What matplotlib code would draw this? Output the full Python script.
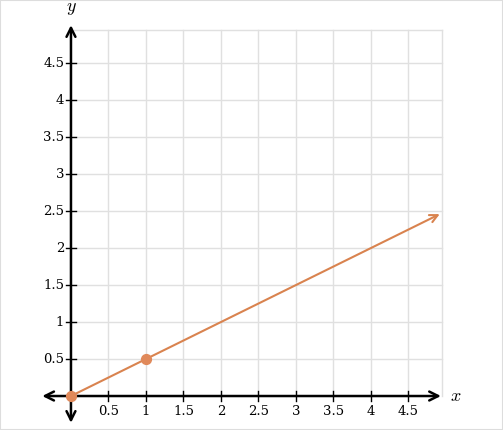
import matplotlib
matplotlib.use("Agg")
import matplotlib.pyplot as plt
import numpy as np

xticks = [0.5, 1, 1.5, 2, 2.5, 3, 3.5, 4, 4.5]
yticks = [0.5, 1, 1.5, 2, 2.5, 3, 3.5, 4, 4.5]
xticklabels = ["0.5", "1", "1.5", "2", "2.5", "3", "3.5", "4", "4.5"]
yticklabels = ["0.5", "1", "1.5", "2", "2.5", "3", "3.5", "4", "4.5"]
line_x = [0, 4.95]
line_y = [0, 2.475]
pts_x = [0, 1]
pts_y = [0, 0.5]

plt.rcParams['font.family'] = ['DejaVu Serif']
plt.rcParams['mathtext.fontset'] = 'cm'
fig = plt.figure(figsize=(5.03, 4.30), dpi=100)
ax = fig.add_axes([0.074, 0.0016, 0.8275, 0.955])
ax.set_xlim(-0.45, 5.1)
ax.set_ylim(-0.45, 5.1)
ax.axis('off')
grid = np.arange(0.5, 4.51, 0.5)
for g in grid:
    ax.plot([g, g], [0, 4.95], color='#e0e0e0', lw=1, zorder=0)
    ax.plot([0, 4.95], [g, g], color='#e0e0e0', lw=1, zorder=0)
ax.plot([4.95, 4.95], [0, 4.95], color='#e0e0e0', lw=1, zorder=0)
ax.plot([0, 4.95], [4.95, 4.95], color='#e0e0e0', lw=1, zorder=0)
ap = dict(arrowstyle='<->', color='black', lw=1.8, mutation_scale=16)
ax.annotate('', xy=(4.97, 0), xytext=(-0.42, 0), arrowprops=ap)
ax.annotate('', xy=(0, 5.05), xytext=(0, -0.40), arrowprops=ap)
for t, l in zip(xticks, xticklabels):
    ax.plot([t, t], [-0.07, 0.07], color='black', lw=1)
    ax.text(t, -0.12, l, ha='center', va='top', fontsize=9.5)
for t, l in zip(yticks, yticklabels):
    ax.plot([-0.07, 0.07], [t, t], color='black', lw=1)
    ax.text(-0.09, t, l, ha='right', va='center', fontsize=9.5)
ax.text(5.05, 0, '$x$', ha='left', va='center', fontsize=13)
ax.text(0, 5.12, '$y$', ha='center', va='bottom', fontsize=13)
ax.annotate('', xy=(line_x[1], line_y[1]), xytext=(line_x[0], line_y[0]),
            arrowprops=dict(arrowstyle='->', color='#d9834f', lw=1.5, mutation_scale=14))
ax.scatter(pts_x, pts_y, s=50, color='#e0895a', zorder=5)
fig.patches.append(plt.Rectangle((0, 0), 1, 1, transform=fig.transFigure, fill=False,
                                 edgecolor='#dddddd', lw=1.5))
fig.savefig('out.png', dpi=100)
